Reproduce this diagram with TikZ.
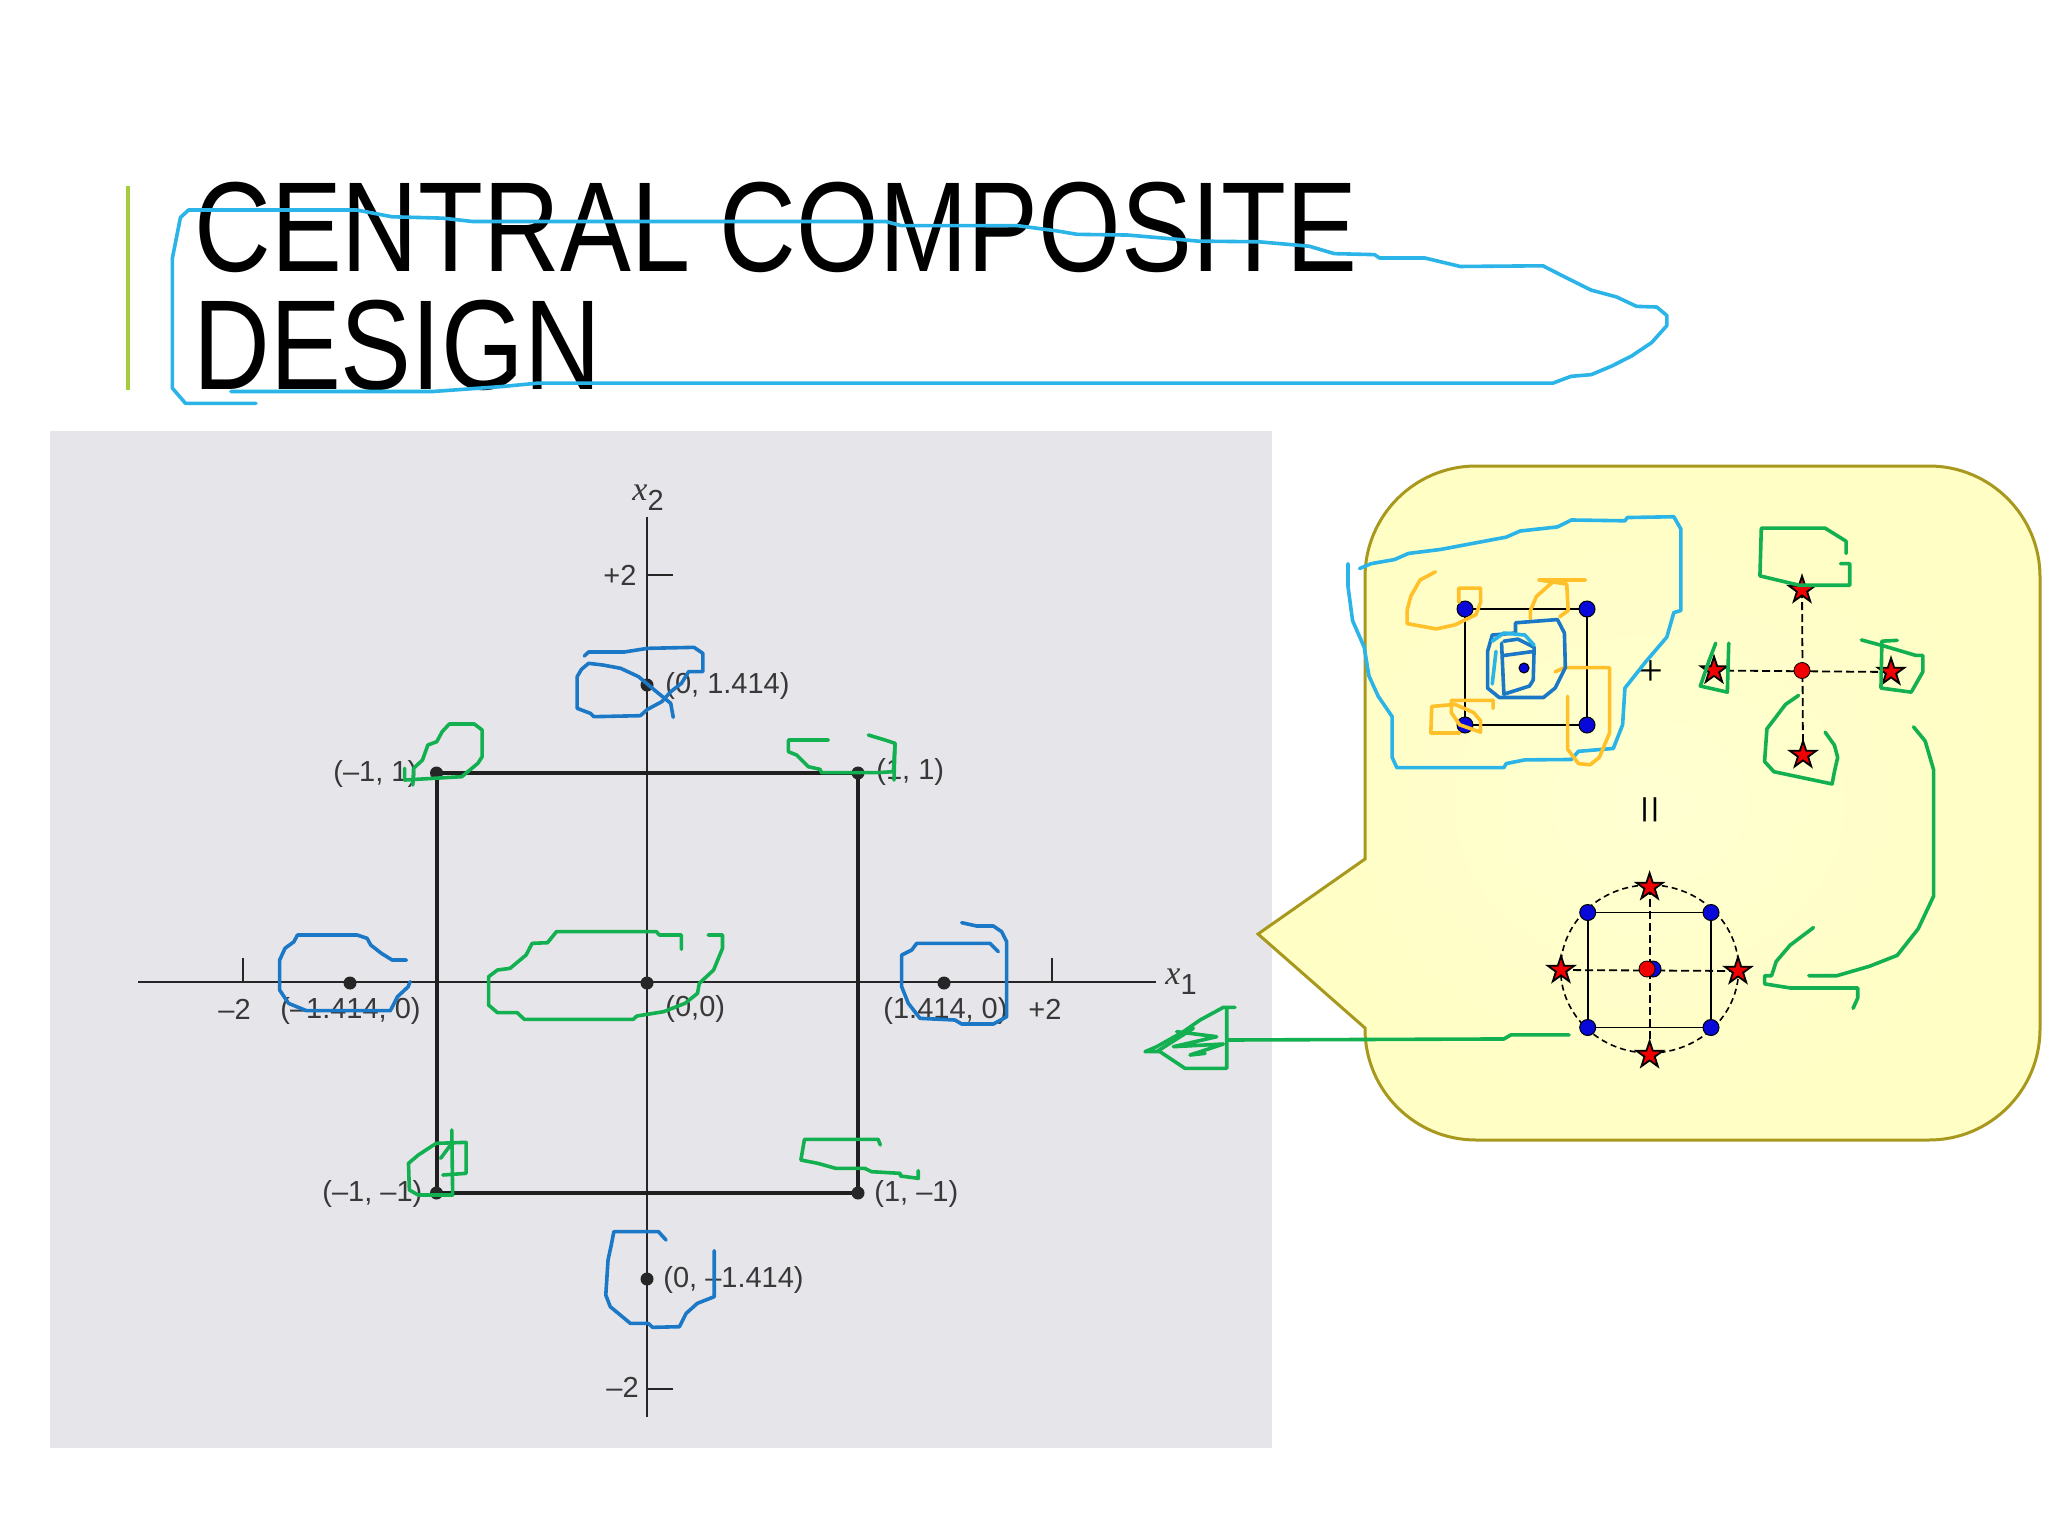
\documentclass[tikz,border=0pt]{standalone}
\usepackage{fontspec}
\setmainfont{Liberation Sans}
\newfontfamily\serifx{Liberation Serif}
\usetikzlibrary{shapes.geometric}
\definecolor{inkcyan}{HTML}{2AB4E8}
\definecolor{inkblue}{HTML}{1B78C6}
\definecolor{inkgreen}{HTML}{12B050}
\definecolor{inkorange}{HTML}{FFC02A}
\definecolor{panelgray}{HTML}{E6E6EA}
\definecolor{barlime}{HTML}{A3CE3A}
\definecolor{callin}{HTML}{FFFFD2}
\definecolor{callout}{HTML}{FFFEC4}
\definecolor{callline}{HTML}{A8981E}
\definecolor{labelgray}{HTML}{383838}
\definecolor{starred}{HTML}{F00000}
\definecolor{dotblue}{HTML}{0808D8}
\tikzset{
  cyanink/.style={draw=inkcyan,line width=1.8pt,line join=round,line cap=round},
  blueink/.style={draw=inkblue,line width=1.8pt,line join=round,line cap=round},
  greenink/.style={draw=inkgreen,line width=1.8pt,line join=round,line cap=round},
  orangeink/.style={draw=inkorange,line width=1.8pt,line join=round,line cap=round},
  lbl/.style={text=labelgray,font=\fontsize{14.5}{14.5}\selectfont,inner sep=0pt},
  titletext/.style={text=black,font=\fontsize{64}{64}\selectfont,inner sep=0pt,anchor=base west},
  axisline/.style={draw=black!85,line width=1pt},
  squareline/.style={draw=black!88,line width=2pt},
  pointdot/.style={circle,fill=black!85,inner sep=0pt,minimum size=6.5pt},
  bluedot/.style={circle,fill=dotblue,draw=black,line width=.5pt,inner sep=0pt,minimum size=8pt},
  reddot/.style={circle,fill=starred,draw=black,line width=.4pt,inner sep=0pt,minimum size=8pt},
  redstar/.style={star,star points=5,star point ratio=2.6,fill=starred,draw=black,line width=.9pt,inner sep=0pt,minimum size=14pt},
  solidthin/.style={draw=black,line width=.9pt},
  dashthin/.style={draw=black,line width=.9pt,dash pattern=on 4pt off 2pt},
  zoomA/.style={shift={(1320,480)},x=0.23275pt,y=-0.204pt},
  zoomB/.style={shift={(120,160)},x=0.50385pt,y=-0.169pt},
  zoomC/.style={shift={(260,620)},x=0.17857pt,y=-0.16667pt},
  zoomD/.style={shift={(780,620)},x=0.16667pt,y=-0.16667pt},
  zoomE/.style={shift={(300,1080)},x=0.22321pt,y=-0.16667pt},
}
\begin{document}
\begin{tikzpicture}[x=0.5pt,y=-0.5pt]
\useasboundingbox (0,0) rectangle (2048,1536);
\fill[white] (0,0) rectangle (2048,1536);

% title
\draw[barlime,line width=2pt] (128,186) -- (128,390);
\node[titletext] (t1) at (194,271) {\scalebox{0.83}[1]{CENTRAL COMPOSITE}};
\node[titletext] (t2) at (193,389) {\scalebox{0.83}[1]{DESIGN}};
\begin{scope}[zoomB]
\draw[cyanink] (135,720)--(65,720)--(52,675)--(52,290)--(60,170)--(68,148)--(235,148)--(270,168)--(320,172)--(350,182)--(760,182)--(775,194)--(890,194)--(930,210)--(950,220)--(1000,222)--(1070,240)--(1130,242)--(1180,255)--(1205,277)--(1245,280)--(1250,290)--(1295,290)--(1330,315)--(1412,313)--(1435,348)--(1460,385)--(1485,405)--(1505,433)--(1525,435)--(1535,460)--(1535,490)--(1520,540)--(1500,580)--(1480,610)--(1460,635)--(1440,640)--(1422,660)--(415,660)--(380,670)--(310,685)--(110,685);
\end{scope}

% grey panel and axes
\fill[panelgray] (50,431) rectangle (1272,1448);
\coordinate (xl) at (138,982);
\coordinate (xr) at (1156,982);
\coordinate (yt) at (647,517);
\coordinate (yb) at (647,1417);
\coordinate (sqa) at (436.5,773);
\coordinate (sqb) at (858,773);
\coordinate (sqc) at (858,1193);
\coordinate (sqd) at (436.5,1193);
\draw[axisline] (xl)--(xr);
\draw[axisline] (yt)--(yb);
\draw[axisline] (243,982)--(243,958);
\draw[axisline] (1052,982)--(1052,958);
\draw[axisline] (647,575)--(673,575);
\draw[axisline] (647,1389)--(673,1389);
\draw[squareline] (sqa)--(sqb)--(sqc)--(sqd)--cycle;
\node[pointdot] (pa) at (sqa) {};
\node[pointdot] (pb) at (sqb) {};
\node[pointdot] (pc) at (sqc) {};
\node[pointdot] (pd) at (sqd) {};
\node[pointdot] (po) at (647,983) {};
\node[pointdot] (pl) at (350,983) {};
\node[pointdot] (pr) at (944,983) {};
\node[pointdot] (pt) at (647,685) {};
\node[pointdot] (pu) at (647,1279) {};

\node[lbl,anchor=west] (l1) at (665,686) {(0, 1.414)};
\node[lbl,anchor=west] (l2) at (333,774) {(–1, 1)};
\node[lbl,anchor=west] (l3) at (876,772) {(1, 1)};
\node[lbl,anchor=west] (l4) at (280,1011) {(–1.414, 0)};
\node[lbl,anchor=west] (l5) at (665,1009) {(0,0)};
\node[lbl,anchor=west] (l6) at (883,1011) {(1.414, 0)};
\node[lbl,anchor=west] (l7) at (1028,1009) {+2};
\node[lbl,anchor=west] (l8) at (218,1009) {–2};
\node[lbl,anchor=west] (l9) at (322,1194) {(–1, –1)};
\node[lbl,anchor=west] (l10) at (874,1194) {(1, –1)};
\node[lbl,anchor=west] (l11) at (663,1280) {(0, –1.414)};
\node[lbl,anchor=west] (l12) at (606,1387) {–2};
\node[lbl,anchor=west] (l13) at (603,575) {+2};
\node[lbl,anchor=west] (l14) at (1165,982) {{\serifx\itshape\fontsize{17}{17}\selectfont x}\raisebox{-5pt}{1}};
\node[lbl,anchor=west] (l15) at (632,498) {{\serifx\itshape\fontsize{17}{17}\selectfont x}\raisebox{-5pt}{2}};

% callout
\draw[shade,shading=radial,inner color=callin,outer color=callout,draw=callline,line width=1.5pt]
  (1365,859) -- (1365,577) arc[start angle=180,end angle=270,radius=111]
  -- (1929,466) arc[start angle=270,end angle=360,radius=111]
  -- (2040,1029) arc[start angle=0,end angle=90,radius=111]
  -- (1476,1140) arc[start angle=90,end angle=180,radius=111]
  -- (1365,1028) -- (1258,934) -- cycle;

% upper-left square in callout
\coordinate (fa) at (1465,609);
\coordinate (fb) at (1587,609);
\coordinate (fc) at (1587,725);
\coordinate (fd) at (1465,725);
\draw[solidthin] (fa)--(fb)--(fc)--(fd)--cycle;
\node[bluedot] at (fa) {};
\node[bluedot] at (fb) {};
\node[bluedot] at (fc) {};
\node[bluedot] at (fd) {};
\node[bluedot,minimum size=5pt] (fo) at (1524,668) {};

% plus and equals
\node[inner sep=0pt,font=\serifx\fontsize{22}{22}\selectfont] (plus) at (1651,673) {+};
\node[inner sep=0pt,rotate=90,font=\serifx\fontsize{26}{26}\selectfont] (eq) at (1656,810) {=};

% star cross
\coordinate (cc) at (1802,670.5);
\coordinate (ct) at (1802,590);
\coordinate (cl) at (1714,670.5);
\coordinate (cr) at (1891,672);
\coordinate (cb) at (1803,755);
\draw[dashthin] (cl)--(cr);
\draw[dashthin] (ct)--(cb);
\node[reddot] at (cc) {};
\node[redstar] at (ct) {};
\node[redstar] at (cl) {};
\node[redstar] at (cr) {};
\node[redstar] at (cb) {};

% combined design
\coordinate (dc) at (1649.6,969);
\coordinate (dt) at (1649.6,887);
\coordinate (db) at (1649.6,1055);
\coordinate (dl) at (1561,970);
\coordinate (dr) at (1738,971);
\coordinate (da) at (1587.7,912.5);
\coordinate (de) at (1711,912.5);
\coordinate (df) at (1711,1027.5);
\coordinate (dg) at (1587.7,1027.5);
\draw[draw=black,line width=.8pt,densely dashed] (dc) ellipse[x radius=89,y radius=84];
\draw[solidthin] (da)--(de)--(df)--(dg)--cycle;
\draw[dashthin] (dl)--(dr);
\draw[dashthin] (dt)--(db);
\node[bluedot] at (da) {};
\node[bluedot] at (de) {};
\node[bluedot] at (df) {};
\node[bluedot] at (dg) {};
\node[bluedot] at (1653,969) {};
\node[reddot] at (1647,969) {};
\node[redstar] at (dt) {};
\node[redstar] at (db) {};
\node[redstar] at (dl) {};
\node[redstar] at (dr) {};

% ink on the callout
\begin{scope}[zoomA]
\draw[cyanink] (60,205)--(60,260)--(70,345)--(95,410)--(105,480)--(125,530)--(155,580)--(155,680)--(165,705)--(395,705)--(400,695)--(440,686)--(540,685)--(555,665)--(630,658)--(650,600)--(655,510)--(700,445)--(745,385)--(760,325)--(775,320)--(775,120)--(760,90)--(660,92)--(655,100)--(540,98)--(510,115)--(430,125)--(400,140)--(260,170)--(190,180)--(160,195)--(110,205)--(85,217);
\draw[orangeink] (248,225)--(215,245)--(195,285)--(187,320)--(187,352)--(250,365)--(290,355)--(335,330)--(345,300)--(345,265)--(298,265)--(298,300);
\draw[orangeink] (570,245)--(470,245)--(500,250)--(465,285)--(452,320)--(452,340);
\draw[orangeink] (500,250)--(530,255)--(533,320)--(515,335);
\draw[orangeink] (372,560)--(372,540)--(282,540)--(282,570)--(300,600)--(345,618)--(345,590)--(330,570)--(290,550)--(240,555)--(238,620)--(300,620);
\draw[orangeink] (505,470)--(525,460)--(622,460)--(622,620)--(600,680)--(580,698)--(555,695)--(532,660)--(532,530);
\draw[blueink] (420,350)--(510,342)--(525,375)--(527,460)--(505,510)--(480,533)--(385,533)--(360,510)--(360,420)--(370,380)--(420,375)--(420,350);
\draw[blueink] (390,400)--(395,525)--(450,505)--(458,490)--(460,410)--(425,390)--(395,395);
\draw[blueink] (395,430)--(460,420);
\draw[cyanink] (370,395)--(395,375)--(440,380)--(460,405);
\draw[cyanink] (378,420)--(370,500);
\draw[greenink] (1130,180)--(1130,150)--(1085,118)--(948,118)--(945,235)--(1000,250)--(1030,258)--(1138,258)--(1138,205)--(1118,205);
\draw[greenink] (850,400)--(835,445)--(817,505)--(875,520)--(878,400);
\draw[greenink] (1163,392)--(1215,408)--(1280,430)--(1295,430)--(1295,470)--(1270,520)--(1205,510)--(1207,395)--(1240,393);
\draw[greenink] (1028,528)--(1000,550)--(960,610)--(955,690)--(975,715)--(1100,745)--(1105,715)--(1112,680)--(1105,650)--(1085,618);
\draw[greenink] (1275,605)--(1300,640)--(1318,710)--(1318,1020)--(1285,1100)--(1240,1165)--(1180,1192)--(1110,1215)--(1050,1215);
\draw[greenink] (1060,1097)--(1010,1140)--(980,1180)--(970,1215)--(955,1215)--(955,1235)--(1010,1245)--(1155,1245)--(1155,1270)--(1145,1295);
\coordinate (longa) at (535,1360);
\coordinate (longb) at (410,1360);
\coordinate (longc) at (395,1370);
\end{scope}
\coordinate (longd) at (1227,1040);
\draw[greenink] (longa)--(longb)--(longc)--(longd);

% ink on the panel
\begin{scope}[zoomC]
\draw[blueink] (908,108)--(920,96)--(1020,96)--(1085,85)--(1215,82)--(1240,100)--(1240,155)--(1200,155)--(1180,190)--(1150,215)--(1125,245)--(1085,268)--(1065,287)--(935,290)--(925,280)--(888,265)--(888,170)--(900,148)--(920,130)--(960,135)--(1010,145)--(1060,170)--(1110,215)--(1150,250)--(1157,292);
\draw[greenink] (405,445)--(405,480)--(565,470)--(610,430)--(622,410)--(622,330)--(600,312)--(530,312)--(510,335)--(495,365)--(470,375)--(455,420)--(430,445)--(428,495);
\draw[blueink] (410,1020)--(370,1020)--(340,1000)--(310,975)--(300,955)--(272,945)--(105,945)--(95,965)--(70,985)--(55,1020)--(55,1110)--(80,1150)--(130,1172)--(365,1172)--(385,1130)--(415,1100)--(420,1085);
\draw[greenink] (1180,988)--(1180,945)--(1118,945)--(1110,935)--(830,935)--(805,968)--(762,970)--(745,1005)--(700,1045)--(665,1050)--(640,1070)--(640,1155)--(665,1178)--(720,1178)--(740,1198)--(1045,1198)--(1055,1188)--(1130,1175)--(1190,1150)--(1225,1120)--(1230,1090)--(1270,1050)--(1295,985)--(1295,945)--(1255,945);
\end{scope}
\begin{scope}[zoomD]
\draw[greenink] (145,360)--(25,360)--(25,395)--(50,405)--(85,440)--(120,448)--(125,458)--(290,458)--(340,455)--(345,370)--(315,360)--(265,345);
\draw[greenink] (345,370)--(342,480);
\draw[blueink] (655,995)--(630,970)--(410,970)--(395,990)--(365,1005)--(365,1100)--(385,1150)--(420,1195)--(525,1200)--(545,1212)--(640,1212)--(680,1190)--(680,965)--(665,935)--(640,918)--(590,918)--(545,908);
\draw[greenink] (1365,1162)--(1330,1162)--(1260,1200)--(1210,1235)--(1130,1280)--(1095,1295)--(1140,1295)--(1215,1345)--(1340,1345)--(1340,1162);
\draw[greenink] (1190,1235)--(1310,1250)--(1180,1280)--(1330,1272)--(1230,1305)--(1275,1300);
\draw[greenink] (1130,1295)--(1240,1225);
\end{scope}
\begin{scope}[zoomE]
\draw[greenink] (340,150)--(342,345)--(265,345)--(245,330)--(243,250)--(265,225)--(305,190)--(372,187)--(372,280)--(320,285);
\draw[greenink] (340,190)--(315,235);
\draw[greenink] (1300,195)--(1295,178)--(1130,178)--(1122,240)--(1160,250)--(1200,265)--(1265,265)--(1280,275)--(1345,280)--(1345,288)--(1385,295)--(1385,272);
\draw[blueink] (820,480)--(803,455)--(703,455)--(698,490)--(690,540)--(685,645)--(695,680)--(740,730)--(780,730)--(790,742)--(850,740)--(865,700)--(890,670)--(928,650)--(928,512);
\end{scope}
\end{tikzpicture}
\end{document}
